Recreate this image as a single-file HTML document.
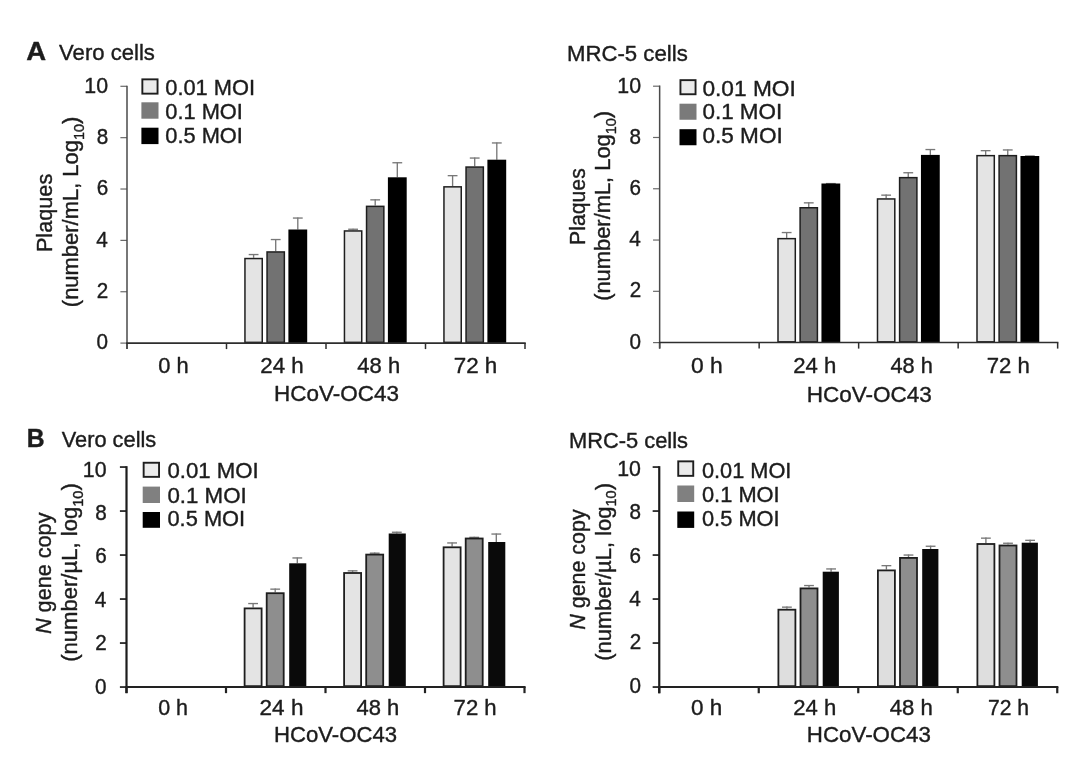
<!DOCTYPE html>
<html lang="en"><head><meta charset="utf-8"><title>HCoV-OC43 replication in Vero and MRC-5 cells</title>
<style>
html,body{margin:0;padding:0;background:#fff;}
body{width:1092px;height:762px;overflow:hidden;}
svg{display:block;filter:blur(0.45px);font-family:"Liberation Sans",sans-serif;}
text{fill:#1c1c1c;stroke:#1c1c1c;stroke-width:0.4px;stroke-linejoin:round;}
</style></head><body>
<svg width="1092" height="762" viewBox="0 0 1092 762">
<rect width="1092" height="762" fill="#ffffff"/>
<path d="M253.60 257.80L253.60 254.00" stroke="#787878" stroke-width="1.35" fill="none"/>
<path d="M248.70 254.55L258.50 254.55" stroke="#787878" stroke-width="1.35" fill="none"/>
<rect x="244.95" y="258.55" width="17.30" height="83.80" fill="#e4e4e4" stroke="#1e1e1e" stroke-width="1.50"/>
<path d="M275.70 251.20L275.70 239.00" stroke="#787878" stroke-width="1.35" fill="none"/>
<path d="M270.80 239.55L280.60 239.55" stroke="#787878" stroke-width="1.35" fill="none"/>
<rect x="267.05" y="251.95" width="17.30" height="90.40" fill="#727272" stroke="#1e1e1e" stroke-width="1.50"/>
<path d="M297.80 229.50L297.80 217.50" stroke="#787878" stroke-width="1.35" fill="none"/>
<path d="M292.90 218.05L302.70 218.05" stroke="#787878" stroke-width="1.35" fill="none"/>
<rect x="288.40" y="229.50" width="18.80" height="113.60" fill="#000"/>
<path d="M353.10 230.20L353.10 228.70" stroke="#787878" stroke-width="1.35" fill="none"/>
<path d="M348.20 229.25L358.00 229.25" stroke="#787878" stroke-width="1.35" fill="none"/>
<rect x="344.45" y="230.95" width="17.30" height="111.40" fill="#e4e4e4" stroke="#1e1e1e" stroke-width="1.50"/>
<path d="M375.20 205.60L375.20 199.30" stroke="#787878" stroke-width="1.35" fill="none"/>
<path d="M370.30 199.85L380.10 199.85" stroke="#787878" stroke-width="1.35" fill="none"/>
<rect x="366.55" y="206.35" width="17.30" height="136.00" fill="#727272" stroke="#1e1e1e" stroke-width="1.50"/>
<path d="M397.30 177.30L397.30 162.20" stroke="#787878" stroke-width="1.35" fill="none"/>
<path d="M392.40 162.75L402.20 162.75" stroke="#787878" stroke-width="1.35" fill="none"/>
<rect x="387.90" y="177.30" width="18.80" height="165.80" fill="#000"/>
<path d="M452.60 186.10L452.60 175.10" stroke="#787878" stroke-width="1.35" fill="none"/>
<path d="M447.70 175.65L457.50 175.65" stroke="#787878" stroke-width="1.35" fill="none"/>
<rect x="443.95" y="186.85" width="17.30" height="155.50" fill="#e4e4e4" stroke="#1e1e1e" stroke-width="1.50"/>
<path d="M474.70 166.30L474.70 157.50" stroke="#787878" stroke-width="1.35" fill="none"/>
<path d="M469.80 158.05L479.60 158.05" stroke="#787878" stroke-width="1.35" fill="none"/>
<rect x="466.05" y="167.05" width="17.30" height="175.30" fill="#727272" stroke="#1e1e1e" stroke-width="1.50"/>
<path d="M496.80 159.70L496.80 142.40" stroke="#787878" stroke-width="1.35" fill="none"/>
<path d="M491.90 142.95L501.70 142.95" stroke="#787878" stroke-width="1.35" fill="none"/>
<rect x="487.40" y="159.70" width="18.80" height="183.40" fill="#000"/>
<path d="M120.40 343.10L127.00 343.10" stroke="#6a6a6a" stroke-width="1.20" fill="none"/>
<path d="M120.40 291.74L127.00 291.74" stroke="#6a6a6a" stroke-width="1.20" fill="none"/>
<path d="M120.40 240.38L127.00 240.38" stroke="#6a6a6a" stroke-width="1.20" fill="none"/>
<path d="M120.40 189.02L127.00 189.02" stroke="#6a6a6a" stroke-width="1.20" fill="none"/>
<path d="M120.40 137.66L127.00 137.66" stroke="#6a6a6a" stroke-width="1.20" fill="none"/>
<path d="M120.40 86.30L127.00 86.30" stroke="#6a6a6a" stroke-width="1.20" fill="none"/>
<path d="M127.00 343.10L127.00 349.10" stroke="#2e2e2e" stroke-width="1.50" fill="none"/>
<path d="M226.50 343.10L226.50 349.10" stroke="#2e2e2e" stroke-width="1.50" fill="none"/>
<path d="M326.00 343.10L326.00 349.10" stroke="#2e2e2e" stroke-width="1.50" fill="none"/>
<path d="M425.50 343.10L425.50 349.10" stroke="#2e2e2e" stroke-width="1.50" fill="none"/>
<path d="M525.00 343.10L525.00 349.10" stroke="#2e2e2e" stroke-width="1.50" fill="none"/>
<path d="M127.00 85.70L127.00 349.10" stroke="#4a4a4a" stroke-width="1.50" fill="none"/>
<path d="M126.25 343.10L525.75 343.10" stroke="#2e2e2e" stroke-width="1.70" fill="none"/>
<text transform="translate(96.58 349.46) scale(0.9241 1)" font-size="22.40">0</text>
<text transform="translate(96.86 298.12) scale(0.9213 1)" font-size="22.40">2</text>
<text transform="translate(96.36 246.78) scale(0.9270 1)" font-size="22.40">4</text>
<text transform="translate(96.70 195.44) scale(0.9221 1)" font-size="22.40">6</text>
<text transform="translate(96.69 144.10) scale(0.9230 1)" font-size="22.40">8</text>
<text transform="translate(84.37 92.76) scale(0.9532 1)" font-size="22.40">10</text>
<rect x="142.35" y="79.35" width="15.20" height="14.30" fill="#ebebeb" stroke="#1e1e1e" stroke-width="1.90"/>
<rect x="141.40" y="102.30" width="17.10" height="16.40" fill="#7a7a7a"/>
<rect x="141.40" y="127.70" width="17.10" height="16.40" fill="#000"/>
<text transform="translate(165.25 94.60) scale(0.9743 1)" font-size="22.40">0.01 MOI</text>
<text transform="translate(165.25 118.70) scale(0.9747 1)" font-size="22.40">0.1 MOI</text>
<text transform="translate(165.25 142.70) scale(0.9747 1)" font-size="22.40">0.5 MOI</text>
<text transform="translate(158.20 373.00) scale(0.9765 1)" font-size="22.40">0 h</text>
<text transform="translate(260.28 373.00) scale(0.9967 1)" font-size="22.40">24 h</text>
<text transform="translate(357.32 373.00) scale(0.9817 1)" font-size="22.40">48 h</text>
<text transform="translate(453.76 373.00) scale(0.9996 1)" font-size="22.40">72 h</text>
<text transform="translate(274.06 401.00) scale(1.0033 1)" font-size="22.40">HCoV-OC43</text>
<text transform="translate(59.11 59.60) scale(0.9864 1)" font-size="22.40">Vero cells</text>
<text transform="translate(26.34 59.60) scale(1.0468 1)" font-size="26.30"><tspan font-weight="bold">A</tspan></text>
<text transform="translate(51.80 252.08) rotate(-90) scale(1.0085 1)" font-size="21.50">Plaques</text>
<text transform="translate(78.00 307.16) rotate(-90) scale(1.0212 1)" font-size="21.50"><tspan>(number/mL, Log</tspan><tspan font-size="14.19" dy="5.60">10</tspan><tspan dy="-5.60">)</tspan></text>
<path d="M786.65 237.90L786.65 232.00" stroke="#787878" stroke-width="1.35" fill="none"/>
<path d="M781.75 232.55L791.55 232.55" stroke="#787878" stroke-width="1.35" fill="none"/>
<rect x="778.00" y="238.65" width="17.30" height="103.20" fill="#e4e4e4" stroke="#1e1e1e" stroke-width="1.50"/>
<path d="M808.75 207.00L808.75 202.30" stroke="#787878" stroke-width="1.35" fill="none"/>
<path d="M803.85 202.85L813.65 202.85" stroke="#787878" stroke-width="1.35" fill="none"/>
<rect x="800.10" y="207.75" width="17.30" height="134.10" fill="#727272" stroke="#1e1e1e" stroke-width="1.50"/>
<path d="M825.95 183.50L835.75 183.50" stroke="#787878" stroke-width="1.20" fill="none"/>
<rect x="821.45" y="183.50" width="18.80" height="159.10" fill="#000"/>
<path d="M886.15 198.20L886.15 194.60" stroke="#787878" stroke-width="1.35" fill="none"/>
<path d="M881.25 195.15L891.05 195.15" stroke="#787878" stroke-width="1.35" fill="none"/>
<rect x="877.50" y="198.95" width="17.30" height="142.90" fill="#e4e4e4" stroke="#1e1e1e" stroke-width="1.50"/>
<path d="M908.25 176.90L908.25 172.20" stroke="#787878" stroke-width="1.35" fill="none"/>
<path d="M903.35 172.75L913.15 172.75" stroke="#787878" stroke-width="1.35" fill="none"/>
<rect x="899.60" y="177.65" width="17.30" height="164.20" fill="#727272" stroke="#1e1e1e" stroke-width="1.50"/>
<path d="M930.35 154.90L930.35 149.00" stroke="#787878" stroke-width="1.35" fill="none"/>
<path d="M925.45 149.55L935.25 149.55" stroke="#787878" stroke-width="1.35" fill="none"/>
<rect x="920.95" y="154.90" width="18.80" height="187.70" fill="#000"/>
<path d="M985.65 154.90L985.65 150.10" stroke="#787878" stroke-width="1.35" fill="none"/>
<path d="M980.75 150.65L990.55 150.65" stroke="#787878" stroke-width="1.35" fill="none"/>
<rect x="977.00" y="155.65" width="17.30" height="186.20" fill="#e4e4e4" stroke="#1e1e1e" stroke-width="1.50"/>
<path d="M1007.75 154.90L1007.75 149.40" stroke="#787878" stroke-width="1.35" fill="none"/>
<path d="M1002.85 149.95L1012.65 149.95" stroke="#787878" stroke-width="1.35" fill="none"/>
<rect x="999.10" y="155.65" width="17.30" height="186.20" fill="#727272" stroke="#1e1e1e" stroke-width="1.50"/>
<path d="M1024.95 155.90L1034.75 155.90" stroke="#787878" stroke-width="1.20" fill="none"/>
<rect x="1020.45" y="156.00" width="18.80" height="186.60" fill="#000"/>
<path d="M653.05 342.60L659.65 342.60" stroke="#6a6a6a" stroke-width="1.20" fill="none"/>
<path d="M653.05 291.32L659.65 291.32" stroke="#6a6a6a" stroke-width="1.20" fill="none"/>
<path d="M653.05 240.04L659.65 240.04" stroke="#6a6a6a" stroke-width="1.20" fill="none"/>
<path d="M653.05 188.76L659.65 188.76" stroke="#6a6a6a" stroke-width="1.20" fill="none"/>
<path d="M653.05 137.48L659.65 137.48" stroke="#6a6a6a" stroke-width="1.20" fill="none"/>
<path d="M653.05 86.20L659.65 86.20" stroke="#6a6a6a" stroke-width="1.20" fill="none"/>
<path d="M659.65 342.60L659.65 348.60" stroke="#2e2e2e" stroke-width="1.50" fill="none"/>
<path d="M759.15 342.60L759.15 348.60" stroke="#2e2e2e" stroke-width="1.50" fill="none"/>
<path d="M858.65 342.60L858.65 348.60" stroke="#2e2e2e" stroke-width="1.50" fill="none"/>
<path d="M958.15 342.60L958.15 348.60" stroke="#2e2e2e" stroke-width="1.50" fill="none"/>
<path d="M1057.65 342.60L1057.65 348.60" stroke="#2e2e2e" stroke-width="1.50" fill="none"/>
<path d="M659.65 85.60L659.65 348.60" stroke="#4a4a4a" stroke-width="1.50" fill="none"/>
<path d="M658.90 342.60L1058.40 342.60" stroke="#2e2e2e" stroke-width="1.50" fill="none"/>
<text transform="translate(629.48 348.71) scale(0.9241 1)" font-size="22.40">0</text>
<text transform="translate(629.76 297.47) scale(0.9213 1)" font-size="22.40">2</text>
<text transform="translate(629.26 246.23) scale(0.9270 1)" font-size="22.40">4</text>
<text transform="translate(629.60 194.99) scale(0.9221 1)" font-size="22.40">6</text>
<text transform="translate(629.59 143.75) scale(0.9230 1)" font-size="22.40">8</text>
<text transform="translate(617.27 92.51) scale(0.9532 1)" font-size="22.40">10</text>
<rect x="680.45" y="80.15" width="15.10" height="14.10" fill="#ebebeb" stroke="#1e1e1e" stroke-width="1.90"/>
<rect x="679.50" y="103.70" width="17.00" height="16.05" fill="#7a7a7a"/>
<rect x="679.50" y="129.20" width="17.00" height="16.05" fill="#000"/>
<text transform="translate(702.41 95.70) scale(1.0135 1)" font-size="22.40">0.01 MOI</text>
<text transform="translate(702.42 119.20) scale(1.0021 1)" font-size="22.40">0.1 MOI</text>
<text transform="translate(702.42 143.30) scale(1.0086 1)" font-size="22.40">0.5 MOI</text>
<text transform="translate(690.91 373.40) scale(1.0198 1)" font-size="22.40">0 h</text>
<text transform="translate(793.19 373.40) scale(0.9894 1)" font-size="22.40">24 h</text>
<text transform="translate(890.52 373.40) scale(0.9721 1)" font-size="22.40">48 h</text>
<text transform="translate(986.77 373.40) scale(0.9899 1)" font-size="22.40">72 h</text>
<text transform="translate(806.75 401.50) scale(1.0058 1)" font-size="22.40">HCoV-OC43</text>
<text transform="translate(566.98 61.00) scale(0.9906 1)" font-size="22.40">MRC-5 cells</text>
<text transform="translate(584.50 244.94) rotate(-90) scale(0.9872 1)" font-size="21.50">Plaques</text>
<text transform="translate(610.00 300.86) rotate(-90) scale(1.0185 1)" font-size="21.50"><tspan>(number/mL, Log</tspan><tspan font-size="14.19" dy="5.60">10</tspan><tspan dy="-5.60">)</tspan></text>
<path d="M253.10 607.50L253.10 603.00" stroke="#787878" stroke-width="1.35" fill="none"/>
<path d="M248.20 603.55L258.00 603.55" stroke="#787878" stroke-width="1.35" fill="none"/>
<rect x="244.60" y="608.40" width="17.00" height="77.75" fill="#e4e4e4" stroke="#1e1e1e" stroke-width="1.80"/>
<path d="M275.20 592.30L275.20 588.60" stroke="#787878" stroke-width="1.35" fill="none"/>
<path d="M270.30 589.15L280.10 589.15" stroke="#787878" stroke-width="1.35" fill="none"/>
<rect x="266.70" y="593.20" width="17.00" height="92.95" fill="#8e8e8e" stroke="#1e1e1e" stroke-width="1.80"/>
<path d="M297.30 563.30L297.30 557.40" stroke="#787878" stroke-width="1.35" fill="none"/>
<path d="M292.40 557.95L302.20 557.95" stroke="#787878" stroke-width="1.35" fill="none"/>
<rect x="289.20" y="563.30" width="17.10" height="123.75" fill="#0a0a0a"/>
<path d="M352.60 572.10L352.60 570.30" stroke="#787878" stroke-width="1.35" fill="none"/>
<path d="M347.70 570.85L357.50 570.85" stroke="#787878" stroke-width="1.35" fill="none"/>
<rect x="344.10" y="573.00" width="17.00" height="113.15" fill="#e4e4e4" stroke="#1e1e1e" stroke-width="1.80"/>
<path d="M374.70 553.70L374.70 552.60" stroke="#787878" stroke-width="1.35" fill="none"/>
<path d="M369.80 553.15L379.60 553.15" stroke="#787878" stroke-width="1.35" fill="none"/>
<rect x="366.20" y="554.60" width="17.00" height="131.55" fill="#8e8e8e" stroke="#1e1e1e" stroke-width="1.80"/>
<path d="M396.80 533.50L396.80 531.70" stroke="#787878" stroke-width="1.35" fill="none"/>
<path d="M391.90 532.25L401.70 532.25" stroke="#787878" stroke-width="1.35" fill="none"/>
<rect x="388.70" y="533.50" width="17.10" height="153.55" fill="#0a0a0a"/>
<path d="M452.10 546.40L452.10 542.40" stroke="#787878" stroke-width="1.35" fill="none"/>
<path d="M447.20 542.95L457.00 542.95" stroke="#787878" stroke-width="1.35" fill="none"/>
<rect x="443.60" y="547.30" width="17.00" height="138.85" fill="#e4e4e4" stroke="#1e1e1e" stroke-width="1.80"/>
<path d="M474.20 537.60L474.20 536.80" stroke="#787878" stroke-width="1.35" fill="none"/>
<path d="M469.30 537.35L479.10 537.35" stroke="#787878" stroke-width="1.35" fill="none"/>
<rect x="465.70" y="538.50" width="17.00" height="147.65" fill="#8e8e8e" stroke="#1e1e1e" stroke-width="1.80"/>
<path d="M496.30 542.00L496.30 533.50" stroke="#787878" stroke-width="1.35" fill="none"/>
<path d="M491.40 534.05L501.20 534.05" stroke="#787878" stroke-width="1.35" fill="none"/>
<rect x="488.20" y="542.00" width="17.10" height="145.05" fill="#0a0a0a"/>
<path d="M119.90 687.05L126.50 687.05" stroke="#2a2a2a" stroke-width="1.80" fill="none"/>
<path d="M119.90 643.05L126.50 643.05" stroke="#2a2a2a" stroke-width="1.80" fill="none"/>
<path d="M119.90 599.05L126.50 599.05" stroke="#2a2a2a" stroke-width="1.80" fill="none"/>
<path d="M119.90 555.06L126.50 555.06" stroke="#2a2a2a" stroke-width="1.80" fill="none"/>
<path d="M119.90 511.06L126.50 511.06" stroke="#2a2a2a" stroke-width="1.80" fill="none"/>
<path d="M119.90 467.06L126.50 467.06" stroke="#2a2a2a" stroke-width="1.80" fill="none"/>
<path d="M126.50 687.05L126.50 693.15" stroke="#222222" stroke-width="2.20" fill="none"/>
<path d="M226.00 687.05L226.00 693.15" stroke="#222222" stroke-width="2.20" fill="none"/>
<path d="M325.50 687.05L325.50 693.15" stroke="#222222" stroke-width="2.20" fill="none"/>
<path d="M425.00 687.05L425.00 693.15" stroke="#222222" stroke-width="2.20" fill="none"/>
<path d="M524.50 687.05L524.50 693.15" stroke="#222222" stroke-width="2.20" fill="none"/>
<path d="M126.50 466.16L126.50 693.15" stroke="#1c1c1c" stroke-width="2.20" fill="none"/>
<path d="M125.40 687.05L525.60 687.05" stroke="#222222" stroke-width="2.00" fill="none"/>
<text transform="translate(95.08 693.71) scale(0.9241 1)" font-size="22.40">0</text>
<text transform="translate(95.36 650.29) scale(0.9213 1)" font-size="22.40">2</text>
<text transform="translate(94.86 606.87) scale(0.9270 1)" font-size="22.40">4</text>
<text transform="translate(95.20 563.45) scale(0.9221 1)" font-size="22.40">6</text>
<text transform="translate(95.19 520.03) scale(0.9230 1)" font-size="22.40">8</text>
<text transform="translate(82.87 476.61) scale(0.9532 1)" font-size="22.40">10</text>
<rect x="143.65" y="462.75" width="15.40" height="14.10" fill="#ebebeb" stroke="#1e1e1e" stroke-width="1.90"/>
<rect x="142.70" y="486.60" width="17.30" height="16.40" fill="#808080"/>
<rect x="142.70" y="512.00" width="17.30" height="15.80" fill="#000"/>
<text transform="translate(167.43 478.10) scale(0.9911 1)" font-size="22.40">0.01 MOI</text>
<text transform="translate(167.43 502.80) scale(0.9955 1)" font-size="22.40">0.1 MOI</text>
<text transform="translate(167.45 526.20) scale(0.9760 1)" font-size="22.40">0.5 MOI</text>
<text transform="translate(158.21 714.50) scale(0.9591 1)" font-size="22.40">0 h</text>
<text transform="translate(259.57 714.50) scale(1.0064 1)" font-size="22.40">24 h</text>
<text transform="translate(356.42 714.50) scale(0.9817 1)" font-size="22.40">48 h</text>
<text transform="translate(453.57 714.50) scale(0.9899 1)" font-size="22.40">72 h</text>
<text transform="translate(273.98 742.30) scale(0.9885 1)" font-size="22.40">HCoV-OC43</text>
<text transform="translate(61.71 446.90) scale(0.9739 1)" font-size="22.40">Vero cells</text>
<text transform="translate(26.87 446.80) scale(0.9397 1)" font-size="26.30"><tspan font-weight="bold">B</tspan></text>
<text transform="translate(50.60 634.05) rotate(-90) scale(1.0072 1)" font-size="21.50"><tspan font-style="italic">N</tspan><tspan> gene copy</tspan></text>
<text transform="translate(76.90 661.87) rotate(-90) scale(1.0275 1)" font-size="21.50"><tspan>(number/µL, log</tspan><tspan font-size="14.19" dy="5.60">10</tspan><tspan dy="-5.60">)</tspan></text>
<path d="M786.90 608.80L786.90 606.60" stroke="#787878" stroke-width="1.35" fill="none"/>
<path d="M782.00 607.15L791.80 607.15" stroke="#787878" stroke-width="1.35" fill="none"/>
<rect x="778.40" y="609.70" width="17.00" height="76.45" fill="#dedede" stroke="#1e1e1e" stroke-width="1.80"/>
<path d="M809.00 587.50L809.00 585.00" stroke="#787878" stroke-width="1.35" fill="none"/>
<path d="M804.10 585.55L813.90 585.55" stroke="#787878" stroke-width="1.35" fill="none"/>
<rect x="800.50" y="588.40" width="17.00" height="97.75" fill="#8e8e8e" stroke="#1e1e1e" stroke-width="1.80"/>
<path d="M831.10 571.70L831.10 568.40" stroke="#787878" stroke-width="1.35" fill="none"/>
<path d="M826.20 568.95L836.00 568.95" stroke="#787878" stroke-width="1.35" fill="none"/>
<rect x="822.70" y="571.70" width="16.20" height="115.35" fill="#0a0a0a"/>
<path d="M886.40 569.50L886.40 565.10" stroke="#787878" stroke-width="1.35" fill="none"/>
<path d="M881.50 565.65L891.30 565.65" stroke="#787878" stroke-width="1.35" fill="none"/>
<rect x="877.90" y="570.40" width="17.00" height="115.75" fill="#dedede" stroke="#1e1e1e" stroke-width="1.80"/>
<path d="M908.50 557.00L908.50 554.50" stroke="#787878" stroke-width="1.35" fill="none"/>
<path d="M903.60 555.05L913.40 555.05" stroke="#787878" stroke-width="1.35" fill="none"/>
<rect x="900.00" y="557.90" width="17.00" height="128.25" fill="#8e8e8e" stroke="#1e1e1e" stroke-width="1.80"/>
<path d="M930.60 549.00L930.60 545.70" stroke="#787878" stroke-width="1.35" fill="none"/>
<path d="M925.70 546.25L935.50 546.25" stroke="#787878" stroke-width="1.35" fill="none"/>
<rect x="922.20" y="549.00" width="16.20" height="138.05" fill="#0a0a0a"/>
<path d="M985.90 543.10L985.90 537.60" stroke="#787878" stroke-width="1.35" fill="none"/>
<path d="M981.00 538.15L990.80 538.15" stroke="#787878" stroke-width="1.35" fill="none"/>
<rect x="977.40" y="544.00" width="17.00" height="142.15" fill="#dedede" stroke="#1e1e1e" stroke-width="1.80"/>
<path d="M1008.00 544.60L1008.00 542.70" stroke="#787878" stroke-width="1.35" fill="none"/>
<path d="M1003.10 543.25L1012.90 543.25" stroke="#787878" stroke-width="1.35" fill="none"/>
<rect x="999.50" y="545.50" width="17.00" height="140.65" fill="#8e8e8e" stroke="#1e1e1e" stroke-width="1.80"/>
<path d="M1030.10 542.70L1030.10 539.80" stroke="#787878" stroke-width="1.35" fill="none"/>
<path d="M1025.20 540.35L1035.00 540.35" stroke="#787878" stroke-width="1.35" fill="none"/>
<rect x="1021.70" y="542.70" width="16.20" height="144.35" fill="#0a0a0a"/>
<path d="M652.65 687.05L659.25 687.05" stroke="#2a2a2a" stroke-width="1.80" fill="none"/>
<path d="M652.65 643.05L659.25 643.05" stroke="#2a2a2a" stroke-width="1.80" fill="none"/>
<path d="M652.65 599.05L659.25 599.05" stroke="#2a2a2a" stroke-width="1.80" fill="none"/>
<path d="M652.65 555.06L659.25 555.06" stroke="#2a2a2a" stroke-width="1.80" fill="none"/>
<path d="M652.65 511.06L659.25 511.06" stroke="#2a2a2a" stroke-width="1.80" fill="none"/>
<path d="M652.65 467.06L659.25 467.06" stroke="#2a2a2a" stroke-width="1.80" fill="none"/>
<path d="M659.25 687.05L659.25 693.25" stroke="#222222" stroke-width="2.20" fill="none"/>
<path d="M758.75 687.05L758.75 693.25" stroke="#222222" stroke-width="2.20" fill="none"/>
<path d="M858.25 687.05L858.25 693.25" stroke="#222222" stroke-width="2.20" fill="none"/>
<path d="M957.75 687.05L957.75 693.25" stroke="#222222" stroke-width="2.20" fill="none"/>
<path d="M1057.25 687.05L1057.25 693.25" stroke="#222222" stroke-width="2.20" fill="none"/>
<path d="M659.25 466.16L659.25 693.25" stroke="#1c1c1c" stroke-width="2.20" fill="none"/>
<path d="M658.15 687.05L1058.35 687.05" stroke="#222222" stroke-width="2.00" fill="none"/>
<text transform="translate(629.38 692.76) scale(0.9241 1)" font-size="22.40">0</text>
<text transform="translate(629.66 649.34) scale(0.9213 1)" font-size="22.40">2</text>
<text transform="translate(629.16 605.92) scale(0.9270 1)" font-size="22.40">4</text>
<text transform="translate(629.50 562.50) scale(0.9221 1)" font-size="22.40">6</text>
<text transform="translate(629.49 519.08) scale(0.9230 1)" font-size="22.40">8</text>
<text transform="translate(617.17 475.66) scale(0.9532 1)" font-size="22.40">10</text>
<rect x="678.25" y="461.35" width="15.00" height="14.50" fill="#ebebeb" stroke="#1e1e1e" stroke-width="1.90"/>
<rect x="677.30" y="485.50" width="16.90" height="16.50" fill="#808080"/>
<rect x="677.30" y="511.50" width="16.90" height="16.40" fill="#000"/>
<text transform="translate(701.95 478.30) scale(0.9709 1)" font-size="22.40">0.01 MOI</text>
<text transform="translate(701.95 502.10) scale(0.9760 1)" font-size="22.40">0.1 MOI</text>
<text transform="translate(701.95 525.60) scale(0.9760 1)" font-size="22.40">0.5 MOI</text>
<text transform="translate(690.92 714.50) scale(1.0025 1)" font-size="22.40">0 h</text>
<text transform="translate(793.29 714.50) scale(0.9869 1)" font-size="22.40">24 h</text>
<text transform="translate(889.81 714.50) scale(0.9889 1)" font-size="22.40">48 h</text>
<text transform="translate(987.92 714.50) scale(0.9436 1)" font-size="22.40">72 h</text>
<text transform="translate(806.87 741.60) scale(0.9967 1)" font-size="22.40">HCoV-OC43</text>
<text transform="translate(568.91 447.50) scale(0.9772 1)" font-size="22.40">MRC-5 cells</text>
<text transform="translate(584.80 629.64) rotate(-90) scale(0.9963 1)" font-size="21.50"><tspan font-style="italic">N</tspan><tspan> gene copy</tspan></text>
<text transform="translate(610.60 660.86) rotate(-90) scale(1.0228 1)" font-size="21.50"><tspan>(number/µL, log</tspan><tspan font-size="14.19" dy="5.60">10</tspan><tspan dy="-5.60">)</tspan></text>
</svg>
</body></html>
